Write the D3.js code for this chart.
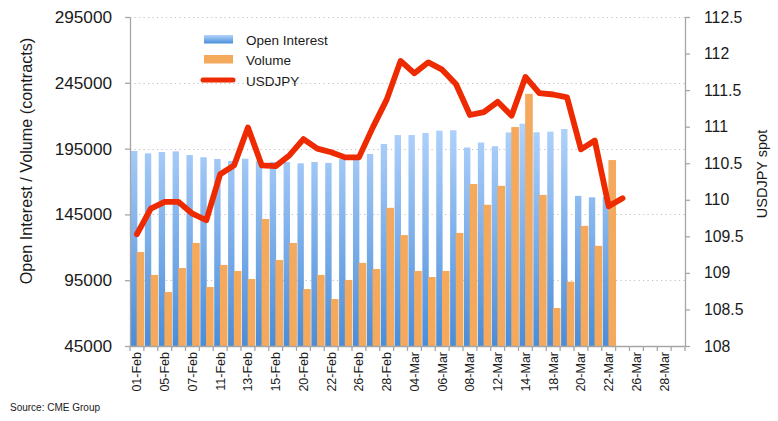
<!DOCTYPE html>
<html>
<head>
<meta charset="utf-8">
<script src="https://cdn.jsdelivr.net/npm/d3@7"></script>
<style>
  html, body { margin: 0; padding: 0; background: #ffffff; }
  svg { display: block; font-family: "Liberation Sans", Arial, sans-serif; }
</style>
</head>
<body>
<svg id="chart" width="778" height="421"></svg>
<script>
// ---------------- DATA ----------------
const dates = ["01-Feb","04-Feb","05-Feb","06-Feb","07-Feb","08-Feb","11-Feb","12-Feb","13-Feb","14-Feb",
  "15-Feb","19-Feb","20-Feb","21-Feb","22-Feb","25-Feb","26-Feb","27-Feb","28-Feb","01-Mar",
  "04-Mar","05-Mar","06-Mar","07-Mar","08-Mar","11-Mar","12-Mar","13-Mar","14-Mar","15-Mar",
  "18-Mar","19-Mar","20-Mar","21-Mar","22-Mar","25-Mar","26-Mar","27-Mar","28-Mar","29-Mar"];
const openInterest = [193200,191400,192400,192900,190100,188400,187100,185600,187300,185600,
  184800,184800,183800,184800,184100,187100,187600,190900,198500,205300,
  205300,206900,208600,209000,195800,199600,196800,207300,213900,207400,
  207900,209900,159100,158000,158300];
const volume = [116400,99000,86000,104300,123300,89800,106600,102000,95900,141500,
  110300,123300,88300,99000,80700,95200,108100,103500,150000,129300,
  102000,97400,102000,130900,168100,152300,166700,211400,236600,159800,
  73900,93900,136300,121100,186300];
const usdjpy = [109.53,109.88,109.97,109.97,109.81,109.72,110.35,110.47,110.99,110.47,
  110.46,110.61,110.83,110.70,110.65,110.58,110.58,110.99,111.37,111.90,
  111.73,111.88,111.78,111.58,111.16,111.20,111.34,111.15,111.68,111.46,
  111.44,111.40,110.69,110.81,109.91,110.02];
const leftTicks = [45000,95000,145000,195000,245000,295000];
const rightTicks = [108,108.5,109,109.5,110,110.5,111,111.5,112,112.5];
const seriesNames = ["Open Interest","Volume","USDJPY"];
const leftTitle = "Open Interest / Volume (contracts)";
const rightTitle = "USDJPY spot";
const sourceText = "Source: CME Group";

// ---------------- LAYOUT ----------------
const svg = d3.select("#chart");
const L = 130, R = 685, T = 17, B = 346;
const x = d3.scaleBand().domain(dates).range([L, R]).padding(0);
const yL = d3.scaleLinear().domain([45000, 295000]).range([B, T]);
const yR = d3.scaleLinear().domain([108, 112.5]).range([B, T]);
const bw = x.bandwidth();
const axisColor = "#a6a6a6";

const defs = svg.append("defs");
const g1 = defs.append("linearGradient").attr("id","blueGrad")
  .attr("x1",0).attr("y1",0).attr("x2",0).attr("y2",1);
g1.append("stop").attr("offset","0%").attr("stop-color","#b3d4fc");
g1.append("stop").attr("offset","100%").attr("stop-color","#4b8ed9");
const g2 = defs.append("linearGradient").attr("id","blueGradUnits")
  .attr("gradientUnits","userSpaceOnUse").attr("x1",0).attr("y1",T+110).attr("x2",0).attr("y2",B);
g2.append("stop").attr("offset","0%").attr("stop-color","#b0d2fc");
g2.append("stop").attr("offset","100%").attr("stop-color","#4a8dd8");

// gridlines (dotted)
svg.append("g").selectAll("line").data(leftTicks.slice(1)).join("line")
  .attr("x1", L).attr("x2", R)
  .attr("y1", d => Math.round(yL(d)) + 0.5).attr("y2", d => Math.round(yL(d)) + 0.5)
  .attr("stroke", "#c0c0c0").attr("stroke-width", 1.2)
  .attr("stroke-dasharray", "1.2,3.3");

// bars: open interest
svg.append("g").selectAll("rect").data(openInterest).join("rect")
  .attr("x", (d,i) => x(dates[i]) + bw*0.07)
  .attr("width", bw*0.46)
  .attr("y", d => yL(d))
  .attr("height", d => B - yL(d))
  .attr("fill", "url(#blueGradUnits)");

// bars: volume
svg.append("g").selectAll("rect").data(volume).join("rect")
  .attr("x", (d,i) => x(dates[i]) + bw*0.48)
  .attr("width", bw*0.55)
  .attr("y", d => yL(d))
  .attr("height", d => B - yL(d))
  .attr("fill", "#f5a95c");

// line
const line = d3.line().x((d,i) => x(dates[i]) + bw/2).y(d => yR(d));
svg.append("path").datum(usdjpy)
  .attr("d", line)
  .attr("fill", "none")
  .attr("stroke", "#ee2a00")
  .attr("stroke-width", 5.8)
  .attr("stroke-linejoin", "round")
  .attr("stroke-linecap", "round");

// axes
const leftAxis = d3.axisLeft(yL).tickValues(leftTicks).tickFormat(d3.format("d")).tickSize(5).tickPadding(13);
const gl = svg.append("g").attr("transform", `translate(${L},0)`).call(leftAxis);
const rightAxis = d3.axisRight(yR).tickValues(rightTicks).tickFormat(d => String(d)).tickSize(5).tickPadding(14);
const gr = svg.append("g").attr("transform", `translate(${R},0)`).call(rightAxis);
const bottomAxis = d3.axisBottom(x).tickSize(0).tickFormat((d,i) => i % 2 === 0 ? d : "");
const gb = svg.append("g").attr("transform", `translate(0,${B})`).call(bottomAxis);

[gl, gr, gb].forEach(g => {
  g.select(".domain").attr("stroke", axisColor).attr("stroke-width", 1.3);
  g.selectAll(".tick line").attr("stroke", axisColor).attr("stroke-width", 1.3);
  g.selectAll("text").attr("fill", "#1a1a1a").attr("font-family", "Liberation Sans, Arial, sans-serif");
});
gl.select(".domain").attr("d", `M0.5,${T}V${B}`);
gr.select(".domain").attr("d", `M0.5,${T}V${B}`);
gl.selectAll("text").attr("font-size", 17.2);
gr.selectAll("text").attr("font-size", 15.8);
gb.select(".domain").attr("d", `M${L},0.5H${R}`);
gb.selectAll(".tick text")
  .attr("font-size", 12.5)
  .attr("transform", "rotate(-90)")
  .attr("text-anchor", "end")
  .attr("x", -6).attr("y", 0).attr("dy", "0.35em");

// category boundary ticks on x axis
svg.append("g").selectAll("line").data(dates.concat(["__end"])).join("line")
  .attr("x1", (d,i) => L + i*bw).attr("x2", (d,i) => L + i*bw)
  .attr("y1", B).attr("y2", B + 5)
  .attr("stroke", axisColor).attr("stroke-width", 1.3);

// axis titles
svg.append("text")
  .attr("transform", `translate(32,161) rotate(-90)`)
  .attr("text-anchor", "middle")
  .attr("font-size", 16.2).attr("fill", "#1a1a1a")
  .text(leftTitle);
svg.append("text")
  .attr("transform", `translate(767,174) rotate(-90)`)
  .attr("text-anchor", "middle")
  .attr("font-size", 14.5).attr("fill", "#1a1a1a")
  .text(rightTitle);

// legend
const lg = svg.append("g");
lg.append("rect").attr("x", 204).attr("y", 35).attr("width", 29).attr("height", 8.5).attr("fill", "url(#blueGrad)");
lg.append("rect").attr("x", 204).attr("y", 55).attr("width", 29).attr("height", 8.5).attr("fill", "#f5a95c");
lg.append("line").attr("x1", 203).attr("x2", 233).attr("y1", 80).attr("y2", 80)
  .attr("stroke", "#ee2a00").attr("stroke-width", 5).attr("stroke-linecap", "round");
lg.selectAll("text").data(seriesNames).join("text")
  .attr("x", 246).attr("y", (d,i) => 40 + i*20.5).attr("dy", "0.35em")
  .attr("font-size", 13.5).attr("fill", "#1a1a1a")
  .text(d => d);

// source
svg.append("text").attr("x", 10).attr("y", 411)
  .attr("font-size", 10).attr("fill", "#1a1a1a").text(sourceText);
</script>
</body>
</html>
